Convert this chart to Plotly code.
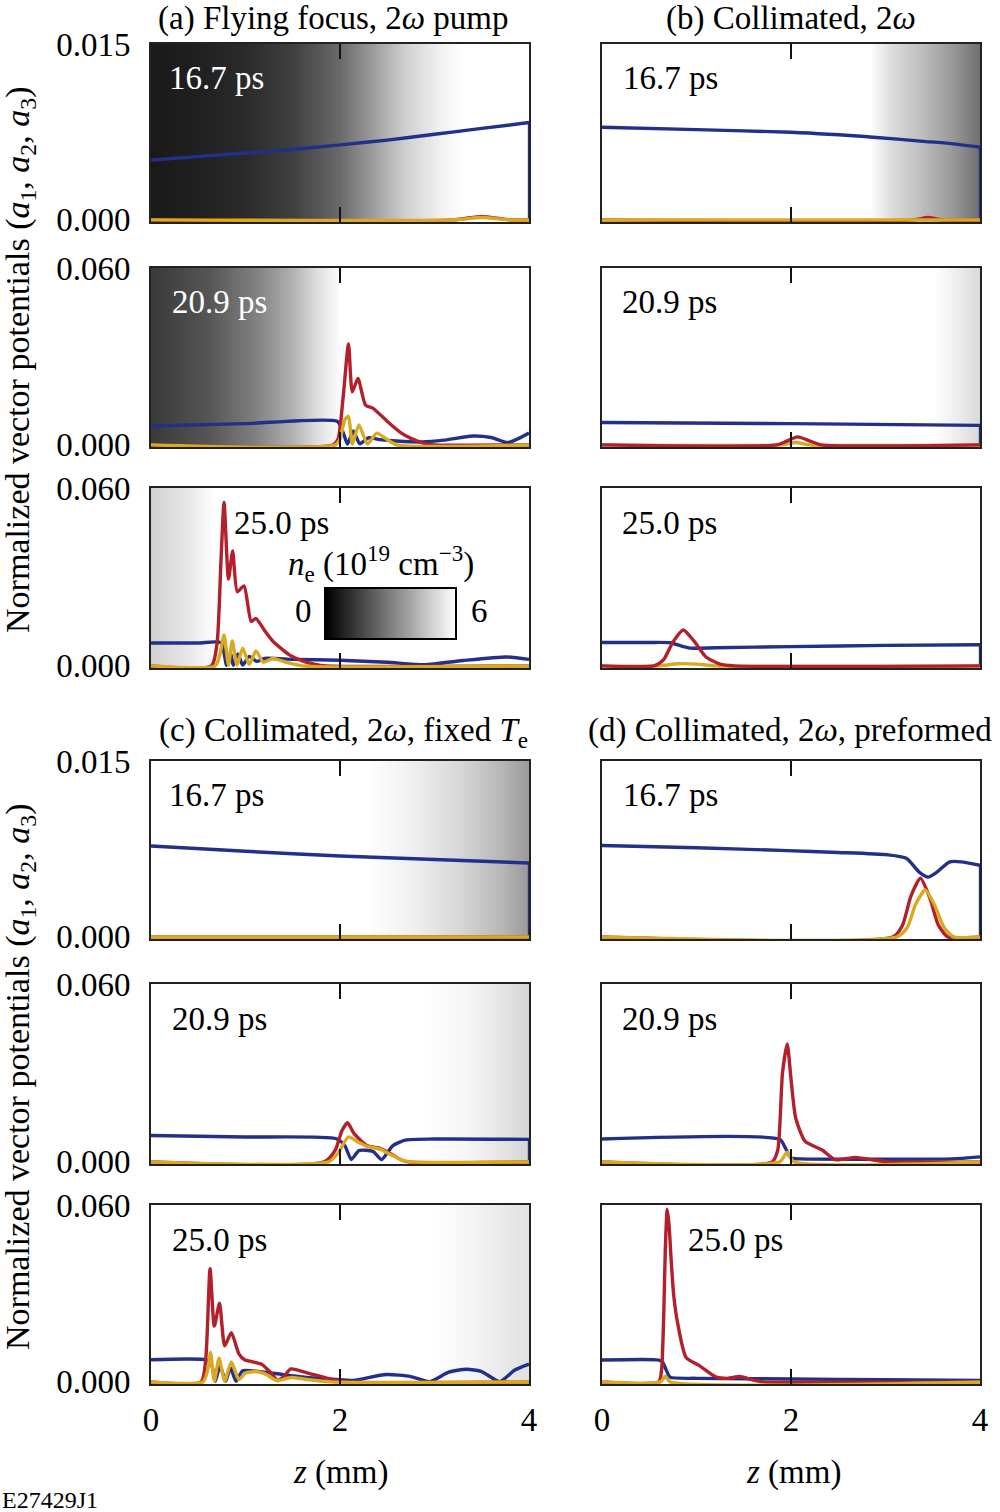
import plotly.graph_objects as go

FONT = "Liberation Serif"
BLUE = "#22308a"
RED = "#b3202b"
YEL = "#dba91f"

# ---------------- data (z in mm, vector potentials, ne in 1e19 cm^-3) ----------------
# (a) Flying focus, 16.7 ps
a167_z1 = [0, 0.5, 1, 1.5, 2, 2.5, 3, 3.5, 4, 4]
a167_a1 = [0.0051, 0.0054, 0.0057, 0.0060, 0.0064, 0.0068, 0.0073, 0.0078, 0.0083, 0]
a167_z2 = [0, 3.2, 3.5, 3.8, 4]
a167_a2 = [0, 0, 0.0003, 0, 0]
a167_z3 = [0, 3.2, 3.5, 3.8, 4]
a167_a3 = [0, 0, 0.0002, 0, 0]
a167_zn = [0, 0.5, 1.0, 1.5, 2.0, 2.35, 2.7, 3.05, 3.3, 4]
a167_ne = [0.6, 0.75, 1.0, 1.5, 2.5, 3.7, 4.9, 5.65, 6, 6]

# (a) 20.9 ps
a209_z1 = [0, 1, 1.97, 2.03, 2.08, 2.14, 2.21, 2.3, 2.42, 2.6, 2.87, 3.1, 3.4, 3.6, 3.78, 4.0]
a209_a1 = [0.0064, 0.0072, 0.0080, 0.0045, 0.0003, 0.0047, 0.0004, 0.0024, 0.0018, 0.0013,
           0.0010, 0.0016, 0.0030, 0.0025, 0.0008, 0.0040]
a209_z2 = [0, 1.93, 1.98, 2.03, 2.09, 2.13, 2.19, 2.27, 2.35, 2.45, 2.54, 2.65, 2.75, 2.9, 3.0, 4]
a209_a2 = [0, 0, 0.002, 0.015, 0.0342, 0.018, 0.0225, 0.0135, 0.0124, 0.0095, 0.0068, 0.004,
           0.0022, 0.0004, 0, 0]
a209_z3 = [0, 1.95, 2.0, 2.05, 2.09, 2.13, 2.2, 2.29, 2.39, 2.48, 2.6, 4]
a209_a3 = [0, 0, 0.002, 0.0085, 0.0097, 0.0003, 0.0068, 0.0003, 0.004, 0.0022, 0, 0]
a209_zn = [0, 0.6, 1.1, 1.5, 1.75, 1.98, 2.0, 4]
a209_ne = [1.35, 2.0, 3.0, 4.2, 5.2, 5.9, 6, 6]

# (a) 25.0 ps
a250_z1 = [0, 0.5, 0.74, 0.8, 0.84, 0.87, 0.92, 0.97, 1.04, 1.12, 1.2, 1.5, 2.0, 2.5, 2.9,
           3.3, 3.76, 4.0]
a250_a1 = [0.0077, 0.0077, 0.0078, 0.0002, 0.0045, 0.0002, 0.004, 0.0003, 0.0032, 0.0015,
           0.0025, 0.0022, 0.0019, 0.0012, 0.0004, 0.0018, 0.0030, 0.0022]
a250_z2 = [0, 0.64, 0.7, 0.74, 0.773, 0.82, 0.864, 0.913, 0.984, 1.06, 1.11, 1.2, 1.29, 1.46,
           1.6, 1.74, 1.85, 4]
a250_a2 = [0, 0, 0.008, 0.035, 0.0551, 0.0293, 0.0388, 0.025, 0.027, 0.015, 0.016, 0.012,
           0.0083, 0.0038, 0.0017, 0.0005, 0, 0]
a250_z3 = [0, 0.68, 0.73, 0.773, 0.82, 0.86, 0.91, 0.97, 1.04, 1.11, 1.19, 1.29, 1.43, 1.6, 4]
a250_a3 = [0, 0, 0.004, 0.0104, 0.0003, 0.0084, 0.0003, 0.006, 0.0005, 0.005, 0.0012, 0.0025,
           0.0012, 0, 0]
a250_zn = [0, 0.2, 0.4, 0.6, 0.66, 4]
a250_ne = [4.9, 5.2, 5.45, 5.85, 6, 6]

# (b) Collimated, 16.7 ps
b167_z1 = [0, 1, 2, 2.87, 3.4, 3.7, 4, 4]
b167_a1 = [0.0079, 0.0077, 0.00747, 0.00705, 0.0067, 0.0065, 0.0062, 0]
b167_z2 = [0, 3.3, 3.45, 3.6, 4]
b167_a2 = [0, 0, 0.0002, 0, 0]
b167_z3 = [0, 4]
b167_a3 = [0, 0]
b167_zn = [0, 2.84, 3.05, 3.37, 3.7, 4]
b167_ne = [6, 6, 5.2, 4.5, 3.6, 2.6]

# (b) 20.9 ps
b209_z1 = [0, 2, 4, 4]
b209_a1 = [0.0076, 0.0072, 0.0066, 0]
b209_z2 = [0, 1.85, 1.95, 2.07, 2.2, 2.32, 4]
b209_a2 = [0, 0, 0.0012, 0.0027, 0.0013, 0, 0]
b209_z3 = [0, 1.9, 2.05, 2.2, 4]
b209_a3 = [0, 0, 0.0008, 0, 0]
b209_zn = [0, 3.5, 3.75, 4]
b209_ne = [6, 6, 5.6, 5.1]

# (b) 25.0 ps
b250_z1 = [0, 0.5, 0.72, 0.85, 0.93, 1.2, 2, 3, 4, 4]
b250_a1 = [0.0079, 0.0079, 0.0078, 0.0066, 0.006, 0.0061, 0.0065, 0.0069, 0.0071, 0]
b250_z2 = [0, 0.55, 0.65, 0.75, 0.86, 0.97, 1.1, 1.25, 1.4, 4]
b250_a2 = [0, 0, 0.002, 0.008, 0.0121, 0.0085, 0.003, 0.0006, 0, 0]
b250_z3 = [0, 0.6, 0.8, 1.0, 1.2, 4]
b250_a3 = [0, 0, 0.0007, 0.0006, 0, 0]
b250_zn = [0, 4]
b250_ne = [6, 6]

# (c) Collimated, fixed Te, 16.7 ps
c167_z1 = [0, 1, 2, 3, 4, 4]
c167_a1 = [0.00775, 0.0073, 0.0069, 0.0066, 0.0063, 0]
c167_z2 = [0, 4]
c167_a2 = [0, 0]
c167_z3 = [0, 4]
c167_a3 = [0, 0]
c167_zn = [0, 2.3, 2.8, 3.3, 3.7, 4]
c167_ne = [6, 6, 5.6, 5.0, 4.3, 3.6]

# (c) 20.9 ps
c209_z1 = [0, 1.0, 1.96, 2.05, 2.12, 2.2, 2.35, 2.44, 2.56, 2.7, 3.0, 4.0, 4.0]
c209_a1 = [0.0089, 0.0084, 0.0078, 0.0055, 0.0008, 0.0038, 0.0035, 0.0008, 0.0055, 0.0074,
           0.0077, 0.0076, 0]
c209_z2 = [0, 1.83, 1.95, 2.02, 2.08, 2.15, 2.29, 2.43, 2.55, 2.64, 2.72, 4]
c209_a2 = [0, 0, 0.004, 0.0105, 0.0132, 0.0095, 0.0054, 0.0045, 0.0025, 0.0008, 0, 0]
c209_z3 = [0, 1.88, 1.98, 2.09, 2.2, 2.29, 2.43, 2.55, 2.64, 2.75, 4]
c209_a3 = [0, 0, 0.003, 0.0084, 0.0065, 0.0052, 0.0042, 0.0022, 0.0008, 0, 0]
c209_zn = [0, 2.85, 3.3, 3.7, 4]
c209_ne = [6, 6, 5.8, 5.4, 5.0]

# (c) 25.0 ps
c250_z1 = [0, 0.59, 0.64, 0.68, 0.73, 0.79, 0.84, 0.9, 0.97, 1.26, 1.6, 1.96, 2.14, 2.49,
           2.75, 2.95, 3.15, 3.34, 3.5, 3.69, 3.85, 4.0]
c250_a1 = [0.0075, 0.0074, 0.006, 0.0002, 0.0055, 0.0002, 0.0048, 0.0002, 0.0038, 0.003,
           0.0017, 0.0008, 0.0005, 0.0025, 0.0018, 0.0001, 0.0033, 0.0043, 0.0035, 0.0001,
           0.004, 0.006]
c250_z2 = [0, 0.53, 0.58, 0.625, 0.67, 0.725, 0.78, 0.85, 0.93, 0.99, 1.17, 1.27, 1.34, 1.41,
           1.48, 1.66, 1.87, 2.08, 4]
c250_a2 = [0, 0, 0.008, 0.0384, 0.0189, 0.0267, 0.0122, 0.0167, 0.0095, 0.0075, 0.006, 0.003,
           0.0005, 0.002, 0.0044, 0.003, 0.0012, 0, 0]
c250_z3 = [0, 0.55, 0.6, 0.63, 0.67, 0.72, 0.78, 0.85, 0.93, 1.0, 1.1, 1.2, 1.34, 1.48, 1.65,
           1.9, 4]
c250_a3 = [0, 0, 0.004, 0.010, 0.0003, 0.008, 0.0003, 0.0068, 0.0008, 0.003, 0.0035, 0.0028,
           0.0004, 0.0015, 0.0008, 0, 0]
c250_zn = [0, 2.95, 3.4, 3.7, 4]
c250_ne = [6, 6, 5.75, 5.5, 5.3]

# (d) Collimated, preformed, 16.7 ps
d167_z1 = [0, 1, 1.96, 2.5, 3.02, 3.22, 3.36, 3.45, 3.54, 3.68, 3.8, 4, 4]
d167_a1 = [0.0078, 0.0076, 0.00736, 0.0072, 0.0070, 0.0067, 0.0055, 0.0051, 0.0055, 0.0064,
           0.0064, 0.0061, 0]
d167_z2 = [0, 3.08, 3.18, 3.27, 3.37, 3.47, 3.56, 3.66, 4]
d167_a2 = [0, 0, 0.001, 0.0035, 0.005, 0.0033, 0.001, 0, 0]
d167_z3 = [0, 3.12, 3.23, 3.32, 3.42, 3.52, 3.62, 3.72, 4]
d167_a3 = [0, 0, 0.0008, 0.0028, 0.004, 0.0027, 0.0008, 0, 0]
d167_zn = [0, 4]
d167_ne = [6, 6]

# (d) 20.9 ps
d209_z1 = [0, 1.88, 1.94, 2.0, 2.1, 3.0, 3.7, 4.0]
d209_a1 = [0.0077, 0.0076, 0.0047, 0.0013, 0.001, 0.0009, 0.001, 0.0017]
d209_z2 = [0, 1.8, 1.86, 1.91, 1.96, 2.0, 2.05, 2.15, 2.33, 2.47, 2.68, 2.86, 3.03, 4]
d209_a2 = [0, 0, 0.004, 0.03, 0.0398, 0.028, 0.0147, 0.0069, 0.004, 0.0007, 0.0015, 0.0007,
           0, 0]
d209_z3 = [0, 1.88, 1.96, 2.03, 4]
d209_a3 = [0, 0, 0.0033, 0, 0]
d209_zn = [0, 4]
d209_ne = [6, 6]

# (d) 25.0 ps
d250_z1 = [0, 0.6, 0.64, 0.68, 0.72, 1.0, 2.0, 3.0, 4.0]
d250_a1 = [0.0074, 0.0074, 0.0068, 0.004, 0.0016, 0.0012, 0.001, 0.0007, 0.0005]
d250_z2 = [0, 0.6, 0.63, 0.655, 0.67, 0.69, 0.71, 0.73, 0.76, 0.8, 0.89, 1.03, 1.21, 1.33,
           1.46, 1.6, 1.71, 4]
d250_a2 = [0, 0, 0.004, 0.025, 0.045, 0.0586, 0.053, 0.0423, 0.029, 0.02, 0.0083, 0.0055,
           0.0016, 0.0012, 0.0018, 0.0006, 0, 0]
d250_z3 = [0, 0.62, 0.67, 0.72, 4]
d250_a3 = [0, 0, 0.002, 0, 0]
d250_zn = [0, 4]
d250_ne = [6, 6]

time_labels = ["16.7 ps", "20.9 ps", "25.0 ps"]
y_max = [0.015, 0.060, 0.060]
y_ticktext = [["0.000", "0.015"], ["0.000", "0.060"], ["0.000", "0.060"]]
x_ticks = [0, 2, 4]
ne_range = [0, 6]

# ---------------- layout geometry ----------------
W, H = 1000, 1512
cols_px = [(151, 529), (602, 980)]
rows_px = [(44, 222), (268, 447), (488, 668), (761, 939), (984, 1164), (1205, 1384)]
cbar_px = (326, 455, 589, 638)   # left, right, top, bottom of the n_e scale bar


def px_x(p):
    return p / W


def px_y(p):
    return 1 - p / H


panels = [
    (0, 0, a167_z1, a167_a1, a167_z2, a167_a2, a167_z3, a167_a3, a167_zn, a167_ne, (167, 78), "white", False),
    (1, 0, a209_z1, a209_a1, a209_z2, a209_a2, a209_z3, a209_a3, a209_zn, a209_ne, (170, 302), "white", False),
    (2, 0, a250_z1, a250_a1, a250_z2, a250_a2, a250_z3, a250_a3, a250_zn, a250_ne, (232, 523), "black", False),
    (0, 1, b167_z1, b167_a1, b167_z2, b167_a2, b167_z3, b167_a3, b167_zn, b167_ne, (621, 78), "black", False),
    (1, 1, b209_z1, b209_a1, b209_z2, b209_a2, b209_z3, b209_a3, b209_zn, b209_ne, (620, 302), "black", True),
    (2, 1, b250_z1, b250_a1, b250_z2, b250_a2, b250_z3, b250_a3, b250_zn, b250_ne, (620, 523), "black", True),
    (3, 0, c167_z1, c167_a1, c167_z2, c167_a2, c167_z3, c167_a3, c167_zn, c167_ne, (167, 795), "black", False),
    (4, 0, c209_z1, c209_a1, c209_z2, c209_a2, c209_z3, c209_a3, c209_zn, c209_ne, (170, 1019), "black", False),
    (5, 0, c250_z1, c250_a1, c250_z2, c250_a2, c250_z3, c250_a3, c250_zn, c250_ne, (170, 1240), "black", False),
    (3, 1, d167_z1, d167_a1, d167_z2, d167_a2, d167_z3, d167_a3, d167_zn, d167_ne, (621, 795), "black", False),
    (4, 1, d209_z1, d209_a1, d209_z2, d209_a2, d209_z3, d209_a3, d209_zn, d209_ne, (620, 1019), "black", False),
    (5, 1, d250_z1, d250_a1, d250_z2, d250_a2, d250_z3, d250_a3, d250_zn, d250_ne, (686, 1240), "black", False),
]

GRAY = [[0, "#000000"], [1, "#ffffff"]]
LW = 3.4

fig = go.Figure()
layout = {}
annotations = []


def add_curve(zs, vs, color, xa, ya):
    """Smooth curve; a trailing vertical drop (repeated z) is drawn as a straight segment."""
    if len(zs) > 2 and zs[-1] == zs[-2]:
        fig.add_trace(go.Scatter(x=zs[:-1], y=vs[:-1], mode="lines",
                                 line=dict(color=color, width=LW, shape="spline", smoothing=0.6),
                                 xaxis=xa, yaxis=ya, hoverinfo="skip"))
        fig.add_trace(go.Scatter(x=zs[-2:], y=vs[-2:], mode="lines",
                                 line=dict(color=color, width=LW * 0.7),
                                 xaxis=xa, yaxis=ya, hoverinfo="skip"))
    else:
        fig.add_trace(go.Scatter(x=zs, y=vs, mode="lines",
                                 line=dict(color=color, width=LW, shape="spline", smoothing=0.6),
                                 xaxis=xa, yaxis=ya, hoverinfo="skip"))


for (row, col, z1, v1, z2, v2, z3, v3, zn, ne, lab_pos, lab_col, red_top) in panels:
    idx = row * 2 + col + 1
    sfx = "" if idx == 1 else str(idx)
    xa, ya = "x" + sfx, "y" + sfx
    t = row % 3
    ymax = y_max[t]
    off = ymax * 0.012

    fig.add_trace(go.Heatmap(
        x=zn, y=[-1, 1], z=[ne, ne], zmin=ne_range[0], zmax=ne_range[1],
        colorscale=GRAY, zsmooth="best", showscale=False, hoverinfo="skip",
        xaxis=xa, yaxis=ya,
    ))

    add_curve(z1, v1, BLUE, xa, ya)
    if red_top:
        add_curve(z3, v3, YEL, xa, ya)
        add_curve(z2, v2, RED, xa, ya)
    else:
        add_curve(z2, v2, RED, xa, ya)
        add_curve(z3, v3, YEL, xa, ya)

    x0, x1 = cols_px[col]
    top, bot = rows_px[row]
    layout["xaxis" + sfx] = dict(
        domain=[px_x(x0), px_x(x1)], anchor=ya, range=[0, 4],
        tickvals=x_ticks, ticktext=[str(v) for v in x_ticks],
        ticks="inside", ticklen=15, tickwidth=2, tickcolor="#111",
        showline=True, linecolor="#222", linewidth=2, mirror="ticks",
        showgrid=False, zeroline=False,
        showticklabels=(row == 5), ticklabelstandoff=5,
        tickfont=dict(family=FONT, size=33, color="black"),
    )
    layout["yaxis" + sfx] = dict(
        domain=[px_y(bot), px_y(top)], anchor=xa, range=[-off, ymax],
        tickvals=[0, ymax], ticktext=y_ticktext[t], ticks="",
        showline=True, linecolor="#222", linewidth=2, mirror=True,
        showgrid=False, zeroline=False,
        showticklabels=(col == 0), ticklabelstandoff=12,
        tickfont=dict(family=FONT, size=33, color="black"),
    )
    annotations.append(dict(
        text=time_labels[t], x=px_x(lab_pos[0]), y=px_y(lab_pos[1]), xref="paper", yref="paper",
        xanchor="left", yanchor="middle", showarrow=False,
        font=dict(family=FONT, size=33, color=lab_col),
    ))

# ---- n_e scale bar as its own small heatmap subplot (drawn over panel a, 25.0 ps) ----
fig.add_trace(go.Heatmap(
    x=ne_range, y=[0, 1], z=[ne_range, ne_range], zmin=ne_range[0], zmax=ne_range[1],
    colorscale=GRAY, zsmooth="best", showscale=False, hoverinfo="skip",
    xaxis="x13", yaxis="y13",
))
layout["xaxis13"] = dict(domain=[px_x(cbar_px[0]), px_x(cbar_px[1])], anchor="y13",
                         range=ne_range, showticklabels=False, ticks="", showgrid=False,
                         zeroline=False, showline=True, mirror=True, linecolor="black",
                         linewidth=1.5)
layout["yaxis13"] = dict(domain=[px_y(cbar_px[3]), px_y(cbar_px[2])], anchor="x13",
                         range=[0, 1], showticklabels=False, ticks="", showgrid=False,
                         zeroline=False, showline=True, mirror=True, linecolor="black",
                         linewidth=1.5)

# titles
titles = [
    ("(a) Flying focus, 2<i>ω</i> pump", 333, 19),
    ("(b) Collimated, 2<i>ω</i>", 791, 19),
    ("(c) Collimated, 2<i>ω</i>, fixed <i>T</i><sub>e</sub>", 343, 732),
    ("(d) Collimated, 2<i>ω</i>, preformed", 790, 730),
]
for txt, x, y in titles:
    annotations.append(dict(text=txt, x=px_x(x), y=px_y(y), xref="paper", yref="paper",
                            xanchor="center", yanchor="middle", showarrow=False,
                            font=dict(family=FONT, size=33, color="black")))

ytitle = "Normalized vector potentials (<i>a</i><sub>1</sub>, <i>a</i><sub>2</sub>, <i>a</i><sub>3</sub>)"
for yc in (360, 1077):
    annotations.append(dict(text=ytitle, x=px_x(20), y=px_y(yc), xref="paper", yref="paper",
                            xanchor="center", yanchor="middle", textangle=-90, showarrow=False,
                            font=dict(family=FONT, size=34, color="black")))

for xc in (340, 793):
    annotations.append(dict(text="<i>z</i> (mm)", x=px_x(xc), y=px_y(1472), xref="paper",
                            yref="paper", xanchor="center", yanchor="middle", showarrow=False,
                            font=dict(family=FONT, size=33, color="black")))

# scale bar labels
annotations.append(dict(text="<i>n</i><sub>e</sub> (10<sup>19</sup> cm<sup>−3</sup>)",
                        x=px_x(381), y=px_y(563), xref="paper", yref="paper",
                        xanchor="center", yanchor="middle", showarrow=False,
                        font=dict(family=FONT, size=33, color="black")))
annotations.append(dict(text=str(ne_range[0]), x=px_x(303), y=px_y(611), xref="paper", yref="paper",
                        xanchor="center", yanchor="middle", showarrow=False,
                        font=dict(family=FONT, size=33, color="black")))
annotations.append(dict(text=str(ne_range[1]), x=px_x(479), y=px_y(611), xref="paper", yref="paper",
                        xanchor="center", yanchor="middle", showarrow=False,
                        font=dict(family=FONT, size=33, color="black")))

annotations.append(dict(text="E27429J1", x=0, y=px_y(1500), xref="paper", yref="paper",
                        xanchor="left", yanchor="middle", showarrow=False,
                        font=dict(family=FONT, size=24, color="black")))

fig.update_layout(
    width=W, height=H, margin=dict(l=0, r=0, t=0, b=0, autoexpand=False),
    paper_bgcolor="white", plot_bgcolor="white", showlegend=False,
    annotations=annotations, **layout,
)

fig.write_html("out.html")
